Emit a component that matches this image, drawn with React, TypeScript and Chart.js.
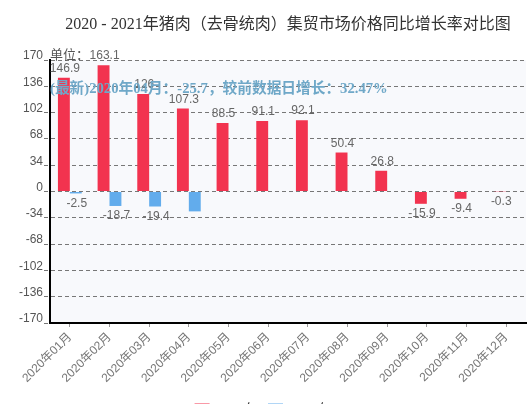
import React, { useEffect, useRef } from "react";
import { Chart, registerables } from "chart.js";

Chart.register(...registerables);

const categories = [
  "2020年01月", "2020年02月", "2020年03月", "2020年04月", "2020年05月", "2020年06月",
  "2020年07月", "2020年08月", "2020年09月", "2020年10月", "2020年11月", "2020年12月",
];
const series2020 = [146.9, 163.1, 126, 107.3, 88.5, 91.1, 92.1, 50.4, 26.8, -15.9, -9.4, -0.3];
const series2021: (number | null)[] = [-2.5, -18.7, -19.4, -25.7, null, null, null, null, null, null, null, null];
const seriesNames = ["2020年", "2021年"];
const yTicks = [-170, -136, -102, -68, -34, 0, 34, 68, 102, 136, 170];
const titleText = "2020 - 2021年猪肉（去骨统肉）集贸市场价格同比增长率对比图";
const unitText = "单位：";
const noteText = "(最新)2020年04月：-25.7，较前数据日增长：32.47%";

const RED = "#f2334f";
const BLUE = "#62acec";
const SANS = "'Liberation Sans','Noto Sans CJK SC',sans-serif";
const SERIF = "'Liberation Serif','Noto Sans CJK SC',serif";

export default function App() {
  const ref = useRef<HTMLCanvasElement | null>(null);

  useEffect(() => {
    if (!ref.current) return;

    const bgPlugin = {
      id: "bgPlugin",
      beforeDraw(chart: any) {
        const { ctx, chartArea: a } = chart;
        ctx.save();
        ctx.fillStyle = "#ffffff";
        ctx.fillRect(0, 0, chart.width, chart.height);
        ctx.fillStyle = "#f8f9fc";
        ctx.fillRect(a.left, a.top, a.right - a.left, a.bottom - a.top);
        ctx.restore();
      },
      afterDraw(chart: any) {
        const { ctx, chartArea: a } = chart;
        ctx.save();
        ctx.font = `16px ${SERIF}`;
        ctx.fillStyle = "#333333";
        ctx.textAlign = "center";
        ctx.textBaseline = "middle";
        ctx.fillText(titleText, (a.left + a.right) / 2, 25);
        ctx.restore();
      },
    };

    const labelPlugin = {
      id: "labelPlugin",
      afterDatasetsDraw(chart: any) {
        const { ctx, chartArea: a } = chart;
        ctx.save();
        ctx.font = `12px ${SANS}`;
        ctx.fillStyle = "#666666";
        ctx.textAlign = "center";
        chart.data.datasets.forEach((ds: any, di: number) => {
          const meta = chart.getDatasetMeta(di);
          let lastIdx = -1;
          ds.data.forEach((v: any, i: number) => { if (v !== null && v !== undefined) lastIdx = i; });
          meta.data.forEach((el: any, i: number) => {
            const v = ds.data[i];
            if (v === null || v === undefined) return;
            if (di === 1 && i === lastIdx) return; // latest value shown in the note instead
            const txt = String(v);
            if (v >= 0) {
              ctx.textBaseline = "alphabetic";
              ctx.fillText(txt, el.x + 1, el.y - 6);
            } else {
              ctx.textBaseline = "top";
              ctx.fillText(txt, el.x + 1, el.y + 4);
            }
          });
        });
        ctx.textAlign = "left";
        ctx.textBaseline = "middle";
        ctx.font = `13px ${SANS}`;
        ctx.fillStyle = "#555555";
        ctx.fillText(unitText, a.left, 55);
        ctx.font = `bold 14.7px ${SERIF}`;
        ctx.fillStyle = "#6fa8c8";
        ctx.fillText(noteText, a.left, 89);
        ctx.restore();
      },
    };

    const chart = new Chart(ref.current, {
      type: "bar",
      data: {
        labels: categories,
        datasets: [
          { label: seriesNames[0], data: series2020, backgroundColor: RED, borderWidth: 0 },
          { label: seriesNames[1], data: series2021, backgroundColor: BLUE, borderWidth: 0 },
        ],
      },
      options: {
        animation: false,
        responsive: true,
        maintainAspectRatio: false,
        devicePixelRatio: 1,
        layout: { padding: { top: 60, left: 0, right: 23, bottom: 0 } },
        datasets: { bar: { categoryPercentage: 0.6, barPercentage: 1 } },
        plugins: {
          title: { display: false },
          tooltip: { enabled: false },
          legend: {
            position: "bottom",
            labels: {
              boxWidth: 15,
              boxHeight: 12,
              padding: 10,
              color: "#333333",
              font: { size: 13, family: SANS },
            },
          },
        },
        scales: {
          x: {
            grid: {
              display: true,
              drawOnChartArea: false,
              drawTicks: true,
              tickLength: 4,
              tickColor: "#999999",
              offset: false,
            },
            border: { display: true, color: "#000000", width: 2 },
            ticks: {
              minRotation: 45,
              maxRotation: 45,
              autoSkip: false,
              padding: 3,
              color: "#777777",
              font: { size: 12, family: SANS },
            },
            afterFit: (s: any) => { s.height = 70; },
          },
          y: {
            min: -170,
            max: 170,
            afterBuildTicks: (s: any) => { s.ticks = yTicks.map((v) => ({ value: v })); },
            grid: {
              color: "#777777",
              tickColor: "#777777",
              tickLength: 6,
              tickBorderDash: [4, 3],
            },
            border: { display: true, color: "#000000", width: 2, dash: [4, 3] },
            ticks: {
              padding: 1,
              labelOffset: -4,
              color: "#555555",
              font: { size: 12, family: SANS },
            },
            afterFit: (s: any) => { s.width = 50; },
          },
        },
      },
      plugins: [bgPlugin, labelPlugin],
    });

    return () => chart.destroy();
  }, []);

  return (
    <div style={{ position: "absolute", left: 0, top: 0, width: 527, height: 404, overflow: "hidden", background: "#fff" }}>
      <div style={{ position: "relative", width: 549, height: 426 }}>
        <canvas ref={ref} />
      </div>
    </div>
  );
}
